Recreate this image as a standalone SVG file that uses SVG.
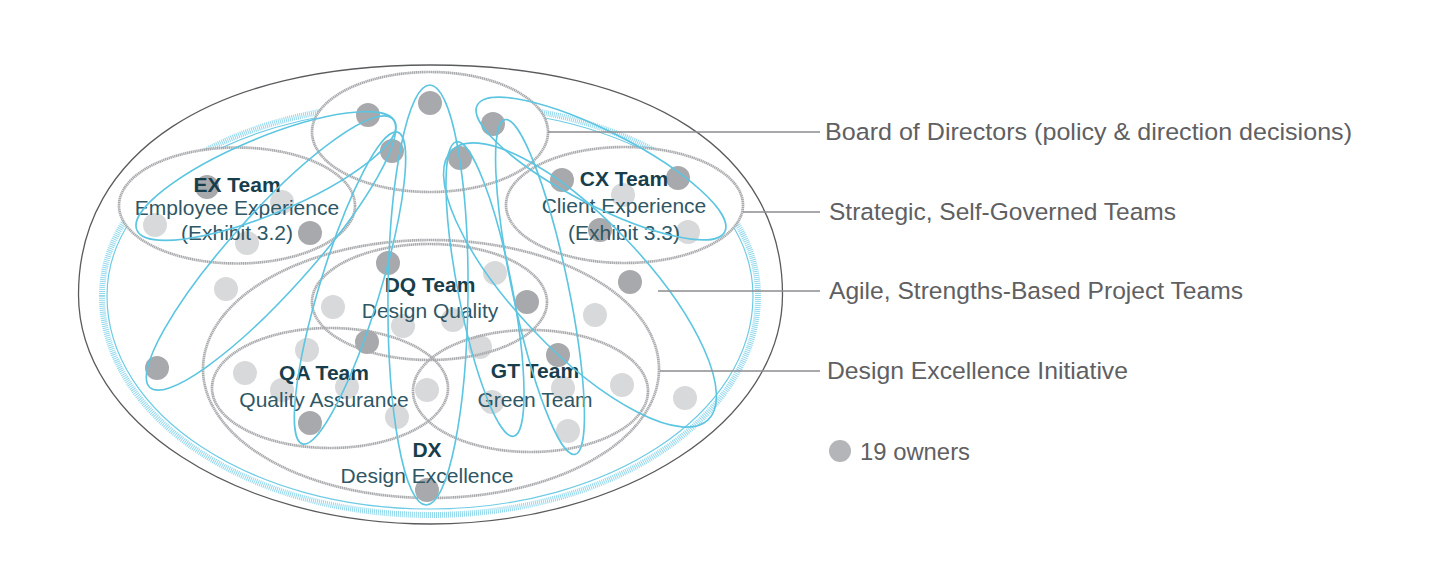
<svg xmlns="http://www.w3.org/2000/svg" width="1440" height="576" viewBox="0 0 1440 576">
<style>
.gray{fill:none;stroke:#a9aaad;stroke-width:2.7;stroke-dasharray:1.4 0.5}
.cover{fill:#fff;stroke:none}
.team{fill:none;stroke:#5cc5e1;stroke-width:1.6}
.dk{fill:#a8a9ac}
.lt{fill:#d8d9db}
.b{font-family:"Liberation Sans",Arial,sans-serif;font-weight:bold;font-size:21px;fill:#183e4c;text-anchor:middle}
.r{font-family:"Liberation Sans",Arial,sans-serif;font-size:21px;fill:#2f5765;text-anchor:middle}
.lab{font-family:"Liberation Sans",Arial,sans-serif;font-size:24.5px;fill:#5f6062}
.con{stroke:#8c8d8f;stroke-width:1.6;fill:none}
</style>
<rect width="1440" height="576" fill="#fff"/>
<g id="organization">
<path d="M78.5,294.5 C78.5,152.2 212.3,65 430.5,65 C648.7,65 782.5,152.2 782.5,294.5 C782.5,421.3 624.9,524 430.5,524 C236.1,524 78.5,421.3 78.5,294.5 Z" fill="none" stroke="#5a5b5d" stroke-width="1.3"/>
</g>
<g id="initiative-band">
<path d="M102,296 C102,183.5 239.8,102 430,102 C620.2,102 758,183.5 758,296 C758,417 611.2,515 430,515 C248.8,515 102,417 102,296Z" fill="none" stroke="#92d8ed" stroke-width="6" stroke-dasharray="1 1"/>
<path d="M107,296 C107,185.8 242.1,107 430,107 C617.9,107 753,185.8 753,296 C753,414.2 608.9,509 430,509 C251.1,509 107,414.2 107,296Z" fill="none" stroke="#6fcbe5" stroke-width="1.2"/>
</g>
<g id="covers">
<ellipse class="cover" cx="430" cy="132" rx="118" ry="60"/>
<ellipse class="cover" cx="237" cy="205.5" rx="118" ry="58"/>
<ellipse class="cover" cx="624.5" cy="205" rx="118.5" ry="58"/>
</g>
<g id="owners">
<circle class="dk" cx="368" cy="115" r="12"/>
<circle class="dk" cx="430" cy="103" r="12"/>
<circle class="dk" cx="493" cy="124" r="12"/>
<circle class="dk" cx="392" cy="151" r="12"/>
<circle class="dk" cx="460" cy="158" r="12"/>
<circle class="dk" cx="207" cy="187" r="12"/>
<circle class="dk" cx="310" cy="233" r="12"/>
<circle class="dk" cx="562" cy="180" r="12"/>
<circle class="dk" cx="678" cy="178" r="12"/>
<circle class="dk" cx="600" cy="230" r="12"/>
<circle class="dk" cx="630" cy="282" r="12"/>
<circle class="dk" cx="388" cy="263" r="12"/>
<circle class="dk" cx="367" cy="342" r="12"/>
<circle class="dk" cx="157" cy="368" r="12"/>
<circle class="dk" cx="310" cy="423" r="12"/>
<circle class="dk" cx="527" cy="302" r="12"/>
<circle class="dk" cx="558" cy="355" r="12"/>
<circle class="dk" cx="427" cy="490" r="12"/>
<circle class="lt" cx="282" cy="202" r="12"/>
<circle class="lt" cx="155" cy="225" r="12"/>
<circle class="lt" cx="247" cy="243" r="12"/>
<circle class="lt" cx="226" cy="289" r="12"/>
<circle class="lt" cx="623" cy="195" r="12"/>
<circle class="lt" cx="688" cy="232" r="12"/>
<circle class="lt" cx="495" cy="273" r="12"/>
<circle class="lt" cx="333" cy="307" r="12"/>
<circle class="lt" cx="403" cy="326" r="12"/>
<circle class="lt" cx="453" cy="320" r="12"/>
<circle class="lt" cx="307" cy="350" r="12"/>
<circle class="lt" cx="245" cy="373" r="12"/>
<circle class="lt" cx="282" cy="390" r="12"/>
<circle class="lt" cx="347" cy="387" r="12"/>
<circle class="lt" cx="397" cy="417" r="12"/>
<circle class="lt" cx="427" cy="390" r="12"/>
<circle class="lt" cx="480" cy="347" r="12"/>
<circle class="lt" cx="595" cy="315" r="12"/>
<circle class="lt" cx="622" cy="385" r="12"/>
<circle class="lt" cx="685" cy="398" r="12"/>
<circle class="lt" cx="563" cy="388" r="12"/>
<circle class="lt" cx="492" cy="402" r="12"/>
<circle class="lt" cx="568" cy="431" r="12"/>
</g>
<g id="board">
<ellipse class="gray" cx="430" cy="132" rx="118" ry="60"/>
</g>
<g id="ex-team">
<ellipse class="gray" cx="237" cy="205.5" rx="118" ry="58"/>
<text class="b" x="237" y="192">EX Team</text>
<text class="r" x="237" y="215">Employee Experience</text>
<text class="r" x="237" y="240">(Exhibit 3.2)</text>
</g>
<g id="cx-team">
<ellipse class="gray" cx="624.5" cy="205" rx="118.5" ry="58"/>
<text class="b" x="624" y="186">CX Team</text>
<text class="r" x="624" y="213">Client Experience</text>
<text class="r" x="624" y="240">(Exhibit 3.3)</text>
</g>
<g id="dx">
<ellipse class="gray" cx="431" cy="369" rx="228" ry="129"/>
<text class="b" x="427" y="457">DX</text>
<text class="r" x="427" y="483">Design Excellence</text>
</g>
<g id="dq-team">
<ellipse class="gray" cx="429.5" cy="302" rx="117.5" ry="58"/>
<text class="b" x="430" y="292">DQ Team</text>
<text class="r" x="430" y="318">Design Quality</text>
</g>
<g id="qa-team">
<ellipse class="gray" cx="330" cy="388" rx="118" ry="60"/>
<text class="b" x="324" y="380">QA Team</text>
<text class="r" x="324" y="407">Quality Assurance</text>
</g>
<g id="gt-team">
<ellipse class="gray" cx="530.5" cy="391" rx="117.5" ry="61"/>
<text class="b" x="535" y="378">GT Team</text>
<text class="r" x="535" y="407">Green Team</text>
</g>
<g id="project-teams">
<ellipse class="team" cx="271" cy="253" rx="181" ry="40" transform="rotate(-48 271 253)"/>
<ellipse class="team" cx="266" cy="176" rx="140" ry="38" transform="rotate(-22.7 266 176)"/>
<ellipse class="team" cx="350" cy="288" rx="163" ry="30" transform="rotate(-73 350 288)"/>
<ellipse class="team" cx="428" cy="295" rx="210" ry="40" transform="rotate(-89.5 428 295)"/>
<ellipse class="team" cx="485" cy="289" rx="150" ry="27" transform="rotate(79 485 289)"/>
<ellipse class="team" cx="540" cy="287" rx="171" ry="28" transform="rotate(78.2 540 287)"/>
<ellipse class="team" cx="601" cy="168.5" rx="139" ry="37" transform="rotate(27.1 601 168.5)"/>
<ellipse class="team" cx="580" cy="285" rx="186" ry="65" transform="rotate(46.5 580 285)"/>
</g>
<g id="connectors">
<line class="con" x1="548" y1="132" x2="820" y2="132"/>
<line class="con" x1="743" y1="212" x2="820" y2="212"/>
<line class="con" x1="658" y1="291" x2="820" y2="291"/>
<line class="con" x1="660" y1="371" x2="820" y2="371"/>
</g>
<g id="labels">
<text class="lab" x="825" y="140" textLength="527" lengthAdjust="spacingAndGlyphs">Board of Directors (policy &amp; direction decisions)</text>
<text class="lab" x="829" y="220" textLength="347" lengthAdjust="spacingAndGlyphs">Strategic, Self-Governed Teams</text>
<text class="lab" x="829" y="299" textLength="414" lengthAdjust="spacingAndGlyphs">Agile, Strengths-Based Project Teams</text>
<text class="lab" x="827" y="379" textLength="301" lengthAdjust="spacingAndGlyphs">Design Excellence Initiative</text>
</g>
<g id="legend">
<circle cx="840" cy="451" r="11" fill="#b4b5b8"/>
<text class="lab" x="860" y="460" textLength="110" lengthAdjust="spacingAndGlyphs">19 owners</text>
</g>
</svg>
